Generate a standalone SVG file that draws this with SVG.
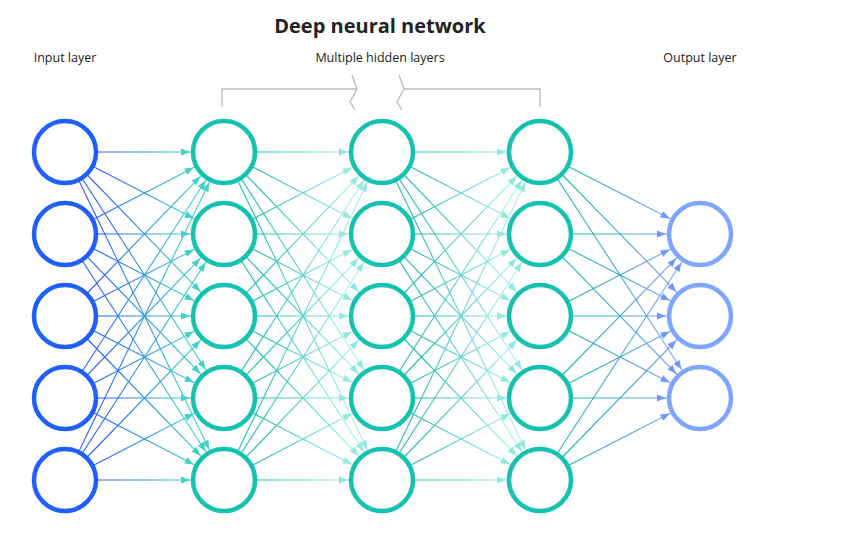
<svg xmlns="http://www.w3.org/2000/svg" width="855" height="543" viewBox="0 0 855 543">
<style>
text{font-family:"Open Sans","Noto Sans",sans-serif;fill:#222}
.lbl{font-size:12.5px;text-anchor:middle}
.n circle{fill:#fff;stroke-width:4.5}
.in circle{stroke:#1f5ffb}
.h circle{stroke:#15c2b1}
.o circle{stroke:#7fa6ff}
#g1 line{stroke:url(#gr1);marker-end:url(#m1)}
#g2 line{stroke:url(#gr2);marker-end:url(#m2)}
#g3 line{stroke:url(#gr3);marker-end:url(#m3)}
#g4 line{stroke:url(#gr4);marker-end:url(#m4)}
.c line{stroke-width:1.1;fill:none}
</style>
<defs>
<linearGradient id="gr1" gradientUnits="userSpaceOnUse" x1="98" y1="0" x2="191" y2="0"><stop offset="0" stop-color="#2a62fb"/><stop offset="1" stop-color="#3fd2c8"/></linearGradient>
<linearGradient id="gr2" gradientUnits="userSpaceOnUse" x1="257" y1="0" x2="349" y2="0"><stop offset="0" stop-color="#1fbcae"/><stop offset="1" stop-color="#a4f0ea"/></linearGradient>
<linearGradient id="gr3" gradientUnits="userSpaceOnUse" x1="415" y1="0" x2="507" y2="0"><stop offset="0" stop-color="#2ab9ad"/><stop offset="1" stop-color="#a4f0ea"/></linearGradient>
<linearGradient id="gr4" gradientUnits="userSpaceOnUse" x1="573" y1="0" x2="667" y2="0"><stop offset="0" stop-color="#1fb9ab"/><stop offset="1" stop-color="#7aa0ff"/></linearGradient>
<marker id="m1" markerUnits="userSpaceOnUse" viewBox="-45 -5 12 10" markerWidth="12" markerHeight="10" refX="0" refY="0" orient="auto"><path d="M-43,-3.5 L-34,0 L-43,3.5z" fill="#3fd2c8"/></marker>
<marker id="m2" markerUnits="userSpaceOnUse" viewBox="-45 -5 12 10" markerWidth="12" markerHeight="10" refX="0" refY="0" orient="auto"><path d="M-43,-3.5 L-34,0 L-43,3.5z" fill="#8fe9e1"/></marker>
<marker id="m3" markerUnits="userSpaceOnUse" viewBox="-45 -5 12 10" markerWidth="12" markerHeight="10" refX="0" refY="0" orient="auto"><path d="M-43,-3.5 L-34,0 L-43,3.5z" fill="#8fe9e1"/></marker>
<marker id="m4" markerUnits="userSpaceOnUse" viewBox="-45 -5 12 10" markerWidth="12" markerHeight="10" refX="0" refY="0" orient="auto"><path d="M-43,-3.5 L-34,0 L-43,3.5z" fill="#6f97ff"/></marker>
</defs>
<rect width="855" height="543" fill="#fff"/>
<text x="380" y="33" text-anchor="middle" font-size="20" font-weight="bold">Deep neural network</text>
<text class="lbl" x="65" y="62">Input layer</text>
<text class="lbl" x="380" y="62">Multiple hidden layers</text>
<text class="lbl" x="700" y="62">Output layer</text>
<g id="bracket" fill="none" stroke="#bbb" stroke-width="1.3">
<path d="M222,107 V89 H357"/><path d="M352,75 L357,89 L350,102 L355,110"/>
<path d="M540,107 V89 H404"/><path d="M399,75 L404,89 L397,102 L402,110"/>
</g>
<g id="connectors" class="c">
<g id="g1">
<line x1="65" y1="152" x2="224" y2="152"/><line x1="65" y1="152" x2="224" y2="234"/><line x1="65" y1="152" x2="224" y2="316"/><line x1="65" y1="152" x2="224" y2="398"/><line x1="65" y1="152" x2="224" y2="480"/>
<line x1="65" y1="234" x2="224" y2="152"/><line x1="65" y1="234" x2="224" y2="234"/><line x1="65" y1="234" x2="224" y2="316"/><line x1="65" y1="234" x2="224" y2="398"/><line x1="65" y1="234" x2="224" y2="480"/>
<line x1="65" y1="316" x2="224" y2="152"/><line x1="65" y1="316" x2="224" y2="234"/><line x1="65" y1="316" x2="224" y2="316"/><line x1="65" y1="316" x2="224" y2="398"/><line x1="65" y1="316" x2="224" y2="480"/>
<line x1="65" y1="398" x2="224" y2="152"/><line x1="65" y1="398" x2="224" y2="234"/><line x1="65" y1="398" x2="224" y2="316"/><line x1="65" y1="398" x2="224" y2="398"/><line x1="65" y1="398" x2="224" y2="480"/>
<line x1="65" y1="480" x2="224" y2="152"/><line x1="65" y1="480" x2="224" y2="234"/><line x1="65" y1="480" x2="224" y2="316"/><line x1="65" y1="480" x2="224" y2="398"/><line x1="65" y1="480" x2="224" y2="480"/>
</g>
<g id="g2">
<line x1="224" y1="152" x2="382" y2="152"/><line x1="224" y1="152" x2="382" y2="234"/><line x1="224" y1="152" x2="382" y2="316"/><line x1="224" y1="152" x2="382" y2="398"/><line x1="224" y1="152" x2="382" y2="480"/>
<line x1="224" y1="234" x2="382" y2="152"/><line x1="224" y1="234" x2="382" y2="234"/><line x1="224" y1="234" x2="382" y2="316"/><line x1="224" y1="234" x2="382" y2="398"/><line x1="224" y1="234" x2="382" y2="480"/>
<line x1="224" y1="316" x2="382" y2="152"/><line x1="224" y1="316" x2="382" y2="234"/><line x1="224" y1="316" x2="382" y2="316"/><line x1="224" y1="316" x2="382" y2="398"/><line x1="224" y1="316" x2="382" y2="480"/>
<line x1="224" y1="398" x2="382" y2="152"/><line x1="224" y1="398" x2="382" y2="234"/><line x1="224" y1="398" x2="382" y2="316"/><line x1="224" y1="398" x2="382" y2="398"/><line x1="224" y1="398" x2="382" y2="480"/>
<line x1="224" y1="480" x2="382" y2="152"/><line x1="224" y1="480" x2="382" y2="234"/><line x1="224" y1="480" x2="382" y2="316"/><line x1="224" y1="480" x2="382" y2="398"/><line x1="224" y1="480" x2="382" y2="480"/>
</g>
<g id="g3">
<line x1="382" y1="152" x2="540" y2="152"/><line x1="382" y1="152" x2="540" y2="234"/><line x1="382" y1="152" x2="540" y2="316"/><line x1="382" y1="152" x2="540" y2="398"/><line x1="382" y1="152" x2="540" y2="480"/>
<line x1="382" y1="234" x2="540" y2="152"/><line x1="382" y1="234" x2="540" y2="234"/><line x1="382" y1="234" x2="540" y2="316"/><line x1="382" y1="234" x2="540" y2="398"/><line x1="382" y1="234" x2="540" y2="480"/>
<line x1="382" y1="316" x2="540" y2="152"/><line x1="382" y1="316" x2="540" y2="234"/><line x1="382" y1="316" x2="540" y2="316"/><line x1="382" y1="316" x2="540" y2="398"/><line x1="382" y1="316" x2="540" y2="480"/>
<line x1="382" y1="398" x2="540" y2="152"/><line x1="382" y1="398" x2="540" y2="234"/><line x1="382" y1="398" x2="540" y2="316"/><line x1="382" y1="398" x2="540" y2="398"/><line x1="382" y1="398" x2="540" y2="480"/>
<line x1="382" y1="480" x2="540" y2="152"/><line x1="382" y1="480" x2="540" y2="234"/><line x1="382" y1="480" x2="540" y2="316"/><line x1="382" y1="480" x2="540" y2="398"/><line x1="382" y1="480" x2="540" y2="480"/>
</g>
<g id="g4">
<line x1="540" y1="152" x2="700" y2="234"/><line x1="540" y1="152" x2="700" y2="316"/><line x1="540" y1="152" x2="700" y2="398"/>
<line x1="540" y1="234" x2="700" y2="234"/><line x1="540" y1="234" x2="700" y2="316"/><line x1="540" y1="234" x2="700" y2="398"/>
<line x1="540" y1="316" x2="700" y2="234"/><line x1="540" y1="316" x2="700" y2="316"/><line x1="540" y1="316" x2="700" y2="398"/>
<line x1="540" y1="398" x2="700" y2="234"/><line x1="540" y1="398" x2="700" y2="316"/><line x1="540" y1="398" x2="700" y2="398"/>
<line x1="540" y1="480" x2="700" y2="234"/><line x1="540" y1="480" x2="700" y2="316"/><line x1="540" y1="480" x2="700" y2="398"/>
</g>
</g>
<g class="n in">
<g id="i1"><circle cx="65" cy="152" r="31"/></g><g id="i2"><circle cx="65" cy="234" r="31"/></g><g id="i3"><circle cx="65" cy="316" r="31"/></g><g id="i4"><circle cx="65" cy="398" r="31"/></g><g id="i5"><circle cx="65" cy="480" r="31"/></g>
</g>
<g class="n h">
<g id="a1"><circle cx="224" cy="152" r="31"/></g><g id="a2"><circle cx="224" cy="234" r="31"/></g><g id="a3"><circle cx="224" cy="316" r="31"/></g><g id="a4"><circle cx="224" cy="398" r="31"/></g><g id="a5"><circle cx="224" cy="480" r="31"/></g>
<g id="b1"><circle cx="382" cy="152" r="31"/></g><g id="b2"><circle cx="382" cy="234" r="31"/></g><g id="b3"><circle cx="382" cy="316" r="31"/></g><g id="b4"><circle cx="382" cy="398" r="31"/></g><g id="b5"><circle cx="382" cy="480" r="31"/></g>
<g id="c1"><circle cx="540" cy="152" r="31"/></g><g id="c2"><circle cx="540" cy="234" r="31"/></g><g id="c3"><circle cx="540" cy="316" r="31"/></g><g id="c4"><circle cx="540" cy="398" r="31"/></g><g id="c5"><circle cx="540" cy="480" r="31"/></g>
</g>
<g class="n o">
<g id="o1"><circle cx="700" cy="234" r="31"/></g><g id="o2"><circle cx="700" cy="316" r="31"/></g><g id="o3"><circle cx="700" cy="398" r="31"/></g>
</g>
</svg>
